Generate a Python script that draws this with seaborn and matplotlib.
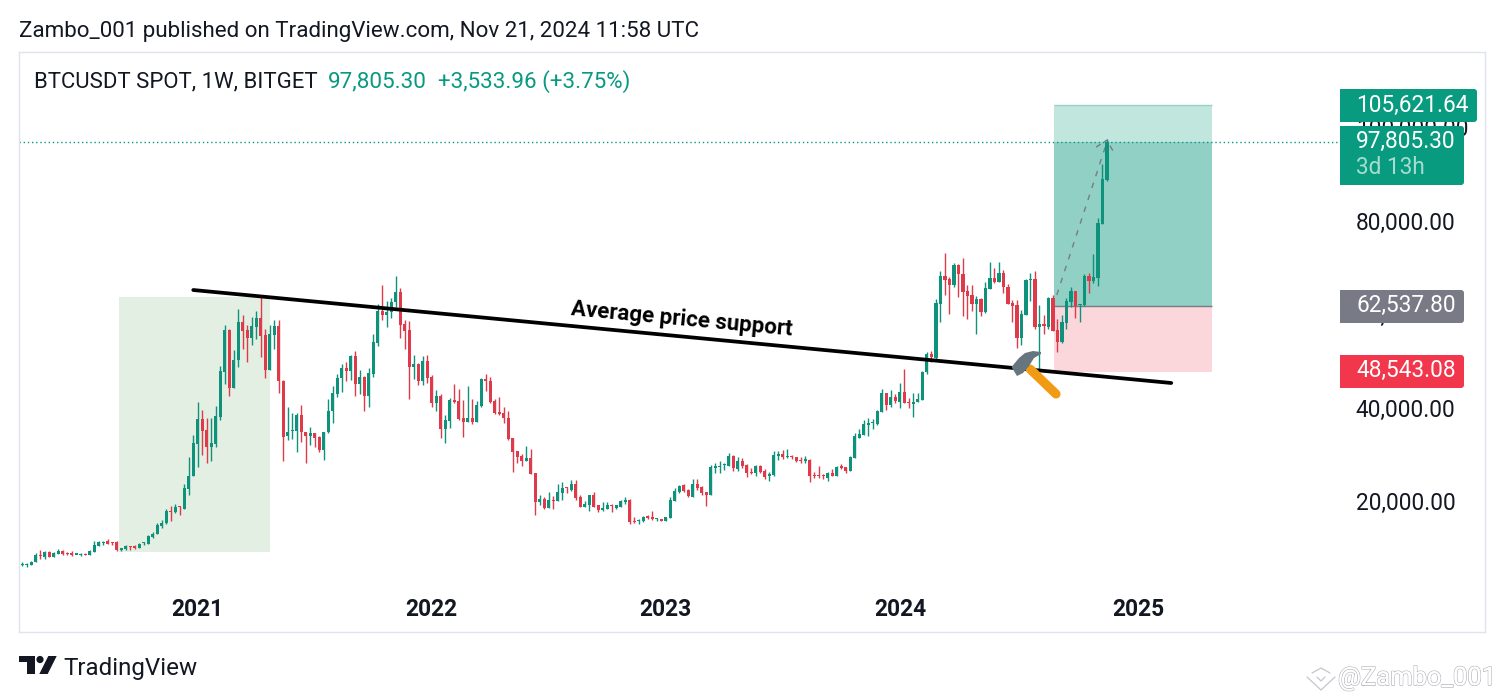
#!/usr/bin/env python
import matplotlib
matplotlib.use('Agg')

import matplotlib.pyplot as plt
import matplotlib.patheffects as pe
from matplotlib.patches import Circle, FancyBboxPatch, Polygon, Rectangle
from matplotlib.ticker import FuncFormatter
from matplotlib.transforms import Affine2D, ScaledTranslation
import numpy as np
import pandas as pd
import seaborn as sns

# weekly candles, prices in thousands of USDT, first week 2020-04-06
opens = [
    7.3, 7.3, 7.3, 7.9, 9.3, 9.0, 10.0, 9.0, 9.7, 10.2,
    9.8, 9.8, 9.5, 9.3, 9.5, 9.5, 10.1, 11.4, 12.0, 12.4,
    12.1, 12.2, 10.5, 10.6, 11.3, 11.2, 11.0, 11.9, 11.8, 13.3,
    13.9, 15.6, 16.2, 18.8, 18.5, 19.7, 19.3, 23.5, 26.4, 33.2,
    38.4, 36.1, 32.4, 33.2, 39.0, 48.6, 57.5, 45.2, 51.0, 59.2,
    57.5, 55.8, 58.2, 60.1, 56.4, 49.0, 56.4, 58.4, 46.6, 34.9,
    35.9, 36.0, 39.3, 35.8, 34.9, 35.4, 34.7, 31.9, 35.6, 40.1,
    43.9, 47.2, 49.4, 48.8, 52.0, 46.0, 47.5, 43.3, 48.2, 54.8,
    61.6, 60.8, 61.3, 63.4, 65.6, 58.8, 57.5, 49.5, 50.2, 46.7,
    50.9, 47.5, 42.0, 43.4, 36.4, 38.1, 42.5, 42.3, 38.6, 37.8,
    38.6, 37.8, 41.3, 47.0, 46.6, 42.4, 40.0, 39.7, 38.6, 34.5,
    31.6, 30.6, 29.6, 30.1, 27.0, 20.7, 21.4, 19.5, 21.2, 21.0,
    22.7, 23.8, 23.2, 24.6, 21.8, 19.7, 20.1, 22.2, 20.0, 19.0,
    19.2, 20.0, 19.4, 19.7, 20.7, 21.2, 16.7, 16.7, 16.6, 17.7,
    17.5, 17.0, 17.1, 16.7, 17.4, 21.0, 22.9, 24.3, 23.3, 21.9,
    24.6, 23.9, 22.8, 22.2, 28.1, 28.3, 28.6, 28.4, 30.6, 27.8,
    29.5, 28.6, 27.1, 26.9, 28.4, 27.4, 26.2, 26.5, 30.6, 30.9,
    30.4, 30.5, 30.3, 29.6, 29.6, 29.7, 26.5, 26.5, 26.4, 25.9,
    26.9, 26.3, 28.3, 28.2, 27.4, 30.1, 34.5, 35.1, 37.3, 37.6,
    37.4, 40.0, 44.0, 41.5, 43.1, 42.2, 44.2, 41.9, 41.7, 42.2,
    42.6, 48.5, 52.3, 51.6, 63.1, 69.1, 68.4, 67.1, 71.4, 69.5,
    65.8, 65.0, 63.1, 64.1, 61.3, 66.3, 68.6, 67.8, 69.8, 66.7,
    63.3, 62.9, 55.8, 60.8, 68.2, 68.4, 58.2, 58.7, 58.2, 64.4,
    57.5, 55.0, 59.0, 63.6, 65.9, 62.9, 62.8, 69.1, 68.0, 68.7,
    80.2, 89.6]
highs = [
    7.9, 7.6, 8.1, 9.8, 10.5, 10.3, 10.3, 10.0, 10.7, 10.5,
    10.1, 10.2, 9.5, 9.8, 9.8, 10.5, 12.4, 12.3, 12.4, 12.8,
    12.1, 12.4, 11.0, 11.5, 11.3, 11.5, 11.9, 12.2, 13.7, 14.4,
    16.2, 16.9, 19.2, 19.9, 20.3, 19.9, 24.6, 30.4, 35.1, 42.1,
    40.4, 38.7, 38.7, 41.3, 49.8, 58.6, 57.7, 53.2, 62.0, 60.7,
    58.6, 60.3, 61.5, 64.8, 57.7, 58.6, 59.6, 59.6, 46.8, 41.1,
    39.7, 39.7, 41.5, 35.8, 36.8, 35.4, 34.9, 35.8, 42.7, 45.5,
    48.2, 50.2, 50.6, 52.2, 53.0, 49.0, 47.6, 49.3, 56.6, 63.0,
    67.1, 63.8, 64.3, 69.1, 66.4, 59.7, 59.4, 52.2, 50.5, 52.0,
    52.2, 47.9, 44.7, 43.8, 39.3, 43.0, 45.9, 44.8, 42.5, 45.5,
    42.7, 42.4, 47.3, 48.2, 47.4, 42.7, 43.2, 41.0, 40.2, 34.5,
    31.6, 31.0, 32.7, 32.1, 27.0, 22.2, 21.7, 22.9, 22.0, 24.6,
    25.0, 24.0, 25.4, 25.4, 22.2, 20.9, 22.2, 22.9, 20.2, 20.7,
    20.7, 20.3, 20.1, 21.2, 21.7, 21.3, 17.5, 17.0, 17.7, 17.9,
    18.8, 17.3, 17.2, 17.5, 21.7, 23.7, 24.4, 24.5, 23.6, 25.7,
    25.7, 24.2, 22.8, 28.7, 29.0, 29.5, 29.1, 31.2, 30.8, 30.3,
    30.1, 28.9, 28.0, 28.6, 28.6, 27.7, 27.1, 31.7, 31.6, 31.9,
    32.1, 30.8, 30.4, 30.3, 30.6, 29.9, 27.1, 28.4, 26.7, 27.1,
    27.8, 28.4, 28.9, 28.2, 30.5, 35.4, 36.3, 38.3, 38.6, 38.5,
    40.4, 44.8, 44.0, 44.7, 43.8, 46.1, 49.1, 42.9, 44.1, 44.0,
    48.7, 52.9, 53.1, 64.1, 70.1, 73.9, 68.8, 71.8, 71.6, 72.8,
    67.1, 67.1, 64.8, 64.3, 67.8, 72.0, 70.7, 72.0, 70.3, 67.3,
    63.9, 63.9, 61.8, 68.4, 69.6, 70.1, 62.9, 60.7, 64.5, 65.0,
    59.9, 60.7, 64.3, 66.6, 65.9, 63.1, 69.5, 69.6, 73.8, 81.4,
    93.1, 98.4]
lows = [
    7.1, 6.9, 7.3, 7.8, 8.6, 8.6, 9.0, 9.0, 9.6, 9.5,
    9.4, 9.2, 9.4, 9.2, 9.3, 9.4, 10.0, 11.3, 11.6, 11.8,
    11.5, 10.2, 10.3, 10.5, 10.5, 10.7, 10.9, 11.5, 11.8, 13.1,
    13.8, 15.2, 16.0, 16.7, 18.4, 18.0, 19.2, 22.3, 26.3, 28.3,
    30.8, 29.1, 29.6, 32.6, 38.3, 46.0, 43.3, 45.2, 49.5, 53.4,
    50.7, 54.4, 55.6, 51.8, 47.3, 48.9, 53.4, 44.1, 29.6, 33.9,
    34.3, 31.5, 33.6, 29.1, 32.9, 32.6, 31.5, 29.7, 35.5, 37.6,
    43.1, 44.3, 46.7, 46.8, 43.3, 43.8, 40.1, 41.1, 47.4, 54.1,
    59.7, 58.2, 60.0, 62.5, 55.9, 53.5, 42.7, 47.0, 45.8, 45.8,
    46.1, 41.1, 40.1, 34.5, 33.3, 36.6, 41.8, 38.3, 34.7, 37.8,
    37.4, 37.8, 41.0, 44.5, 42.0, 39.6, 39.3, 37.7, 34.0, 27.2,
    29.1, 28.5, 29.6, 26.7, 18.0, 20.2, 19.2, 19.4, 19.2, 20.9,
    21.2, 22.7, 23.1, 21.2, 19.7, 19.6, 18.9, 19.7, 18.6, 18.9,
    19.2, 18.7, 19.2, 19.6, 20.4, 16.1, 16.3, 16.0, 16.5, 17.2,
    16.9, 16.7, 16.7, 16.7, 17.3, 20.9, 22.7, 22.9, 21.9, 21.9,
    23.4, 22.2, 19.9, 22.2, 27.0, 27.0, 27.6, 28.4, 27.4, 27.4,
    28.1, 26.1, 26.7, 26.3, 27.0, 25.7, 25.2, 26.4, 29.8, 29.9,
    30.1, 30.0, 29.3, 29.0, 29.1, 25.0, 25.8, 25.8, 25.7, 25.3,
    26.3, 26.3, 27.8, 26.9, 27.4, 30.1, 34.4, 35.0, 34.9, 36.3,
    37.2, 39.9, 40.5, 41.0, 41.8, 40.8, 41.8, 40.8, 39.0, 42.1,
    42.5, 48.1, 50.7, 51.4, 59.3, 64.9, 60.9, 66.7, 64.6, 60.4,
    59.9, 61.6, 56.7, 60.4, 61.1, 66.2, 67.5, 67.7, 65.4, 63.0,
    59.3, 53.7, 54.3, 60.7, 63.8, 57.7, 49.0, 56.6, 57.7, 57.3,
    52.9, 54.7, 57.7, 62.5, 60.1, 59.3, 62.7, 65.5, 67.6, 67.0,
    80.1, 89.4]
closes = [
    7.5, 7.4, 8.0, 9.3, 9.1, 10.0, 9.0, 9.8, 10.3, 9.6,
    9.6, 9.5, 9.5, 9.5, 9.4, 10.2, 11.5, 12.1, 12.2, 11.8,
    11.9, 10.5, 10.8, 11.3, 11.1, 11.0, 11.7, 12.0, 13.4, 14.0,
    15.8, 16.2, 18.9, 18.5, 19.7, 19.6, 23.7, 26.4, 33.3, 38.4,
    35.9, 32.4, 33.3, 39.1, 48.7, 57.5, 45.2, 51.1, 59.2, 57.4,
    55.8, 58.4, 60.1, 56.3, 49.0, 56.7, 58.4, 46.5, 34.7, 35.8,
    36.1, 39.4, 35.8, 34.9, 35.5, 34.5, 31.9, 35.6, 40.2, 44.0,
    47.2, 49.4, 48.7, 52.0, 46.0, 47.5, 43.3, 48.3, 55.0, 61.6,
    60.7, 61.4, 63.5, 65.6, 58.6, 57.4, 49.5, 50.2, 46.7, 50.9,
    47.2, 42.0, 43.4, 36.4, 38.3, 42.5, 42.1, 38.5, 37.9, 38.6,
    37.8, 41.5, 47.1, 46.5, 42.2, 39.8, 39.6, 38.6, 34.2, 31.5,
    30.4, 29.6, 30.1, 26.8, 20.8, 21.4, 19.4, 21.2, 21.0, 22.9,
    23.7, 23.7, 24.6, 21.6, 19.7, 20.3, 22.2, 19.7, 19.0, 19.5,
    20.0, 19.8, 20.0, 21.0, 21.2, 16.4, 16.5, 16.9, 17.6, 17.4,
    17.0, 17.1, 16.7, 17.5, 21.2, 23.1, 24.2, 23.1, 22.0, 24.6,
    23.8, 22.7, 22.2, 28.3, 28.2, 28.4, 28.7, 30.6, 27.9, 29.5,
    28.4, 26.9, 26.9, 28.4, 27.1, 26.1, 26.7, 30.8, 30.9, 30.3,
    30.5, 30.3, 29.4, 29.4, 29.7, 26.3, 26.3, 26.3, 26.2, 26.9,
    26.3, 28.2, 28.1, 27.4, 30.4, 34.8, 35.3, 37.4, 37.7, 37.7,
    40.2, 44.0, 41.5, 43.1, 42.3, 44.2, 41.8, 41.8, 42.2, 42.8,
    48.6, 52.4, 51.7, 63.3, 69.1, 68.3, 67.1, 71.5, 69.4, 65.7,
    64.8, 63.0, 64.1, 61.4, 66.5, 68.6, 67.8, 69.8, 66.6, 63.1,
    62.7, 55.8, 60.9, 68.3, 68.3, 58.2, 58.7, 58.4, 64.3, 57.4,
    55.0, 59.2, 63.7, 65.9, 62.6, 63.0, 69.1, 68.0, 68.8, 80.4,
    89.8, 97.8]

year_labels = ['2021', '2022', '2023', '2024', '2025']
year_dates = ['2021-01-04', '2022-01-03', '2023-01-02', '2024-01-01', '2025-01-06']
price_ticks = [20000, 40000, 60000, 80000, 100000]

# long position tool and drawings
target_price, last_price, entry_price, stop_price = 105621.64, 97805.30, 62537.80, 48543.08
position_dates = ['2024-08-28', '2025-05-01']
range_dates = ['2020-09-03', '2021-04-26']
range_prices = [10050, 64600]
trend_dates = ['2020-12-28', '2025-02-26']
trend_prices = [66060, 46180]
move_dates = ['2024-09-01', '2024-11-18']
move_prices = [65000, 97700]
arrow_dates = ['2024-11-01', '2024-11-18', '2024-11-29']
arrow_prices = [96600, 98100, 95400]

GREEN = '#089981'
CANDLE_UP = '#0F927C'
CANDLE_DOWN = '#DF3A4A'
GREY = '#787B86'
INK = '#131722'

sns.set_theme(style='white')
plt.rcParams['font.family'] = ['Roboto', 'DejaVu Sans']


def d(values):
    return pd.to_datetime(values)


fig = plt.figure(figsize=(15.04, 6.99), dpi=100, facecolor='white')
# frame runs x 19..1485, y 52..632 in image pixels
ax = fig.add_axes([19 / 1504, 1 - 632 / 699, (1485 - 19) / 1504, (632 - 52) / 699])
px = Affine2D().scale(1, -1).translate(0, 699)

# Candles
weeks = pd.date_range('2020-04-06', periods=len(opens), freq='7D')
candles = pd.DataFrame({'week': weeks, 'open': opens, 'high': highs,
                        'low': lows, 'close': closes})
candles[['open', 'high', 'low', 'close']] *= 1000
candles['side'] = np.where(candles['close'] >= candles['open'], 'up', 'down')
palette = {'up': CANDLE_UP, 'down': CANDLE_DOWN}

wicks = candles.melt(id_vars=['week', 'side'], value_vars=['high', 'low'],
                     value_name='price')
sns.lineplot(data=wicks, x='week', y='price', units='week', hue='side',
             estimator=None, palette=palette, legend=False, linewidth=1.0,
             solid_capstyle='butt', ax=ax, zorder=3)

body_bottom = candles[['open', 'close']].min(axis=1)
body_height = (candles['close'] - candles['open']).abs().clip(lower=230)
ax.bar(candles['week'], body_height, bottom=body_bottom, width=5.0,
       color=candles['side'].map(palette), linewidth=0, zorder=3.1)

# Shaded range and the long position box
ax.add_patch(Rectangle((d(range_dates[0]), range_prices[0]),
                       d(range_dates[1]) - d(range_dates[0]),
                       range_prices[1] - range_prices[0],
                       facecolor='#E3EFE3', edgecolor='none', zorder=1))
pos_left = d(position_dates[0])
pos_width = d(position_dates[1]) - pos_left
for lo, hi, colour in [(last_price, target_price, '#C1E6DE'),
                       (entry_price, last_price, '#91D0C4'),
                       (stop_price, entry_price, '#FBD7DB')]:
    ax.add_patch(Rectangle((pos_left, lo), pos_width, hi - lo,
                           facecolor=colour, edgecolor='none', zorder=1))
ax.hlines([entry_price], pos_left, pos_left + pos_width, color=GREY, linewidth=1.0, zorder=1.5)
ax.hlines([target_price], pos_left, pos_left + pos_width, color='#9CCFC5', linewidth=1.0, zorder=1.5)

# Last price line stops at its tag
ax.hlines([last_price], pd.Timestamp('2020-04-01'), pd.Timestamp('2025-11-16'), color=GREEN,
          linewidth=1.0, linestyle=(0, (1, 2)), zorder=2)

# Projected move
sns.lineplot(x=d(move_dates), y=move_prices, color=GREY, linewidth=1.0,
             linestyle=(0, (4, 5)), ax=ax, zorder=2.8, sort=False)
sns.lineplot(x=d(arrow_dates), y=arrow_prices, color=GREY, linewidth=1.0,
             linestyle=(0, (4, 3)), ax=ax, zorder=2.8, sort=False)

# Trend line and its caption
sns.lineplot(x=d(trend_dates), y=trend_prices, color='black', linewidth=2.7,
             ax=ax, zorder=4, solid_capstyle='round')
ax.text(pd.Timestamp('2023-01-26'), 59900, 'Average price support', fontsize=16,
        fontweight='bold', color='black', rotation=-5.3, rotation_mode='anchor',
        ha='center', va='center', zorder=5)

# Axes
ax.set_xlim(pd.Timestamp('2020-04-01'), pd.Timestamp('2026-06-29'))
ax.set_ylim(-7060, 116950)
ax.set_xlabel('')
ax.set_ylabel('')
ax.set_xticks(d(year_dates))
ax.set_xticklabels(year_labels, fontsize=16.4, fontweight='bold', color=INK)
ax.tick_params(axis='x', length=0, pad=-24.5)
ax.yaxis.tick_right()
ax.set_yticks(price_ticks)
ax.yaxis.set_major_formatter(FuncFormatter(lambda v, _: f'{v:,.2f}'))
ax.tick_params(axis='y', length=0, pad=-93, labelsize=16.3, labelcolor=INK)
label_lift = ScaledTranslation(0, 4 / 100, fig.dpi_scale_trans)
for label in ax.get_yticklabels():
    label.set_transform(label.get_transform() + label_lift)
for spine in ax.spines.values():
    spine.set_color('#E0E3EB')
    spine.set_linewidth(1.0)


def price_tag(x0, x1, y0, y1, colour, lines):
    ax.add_patch(FancyBboxPatch((x0 + 3, y0 + 3), x1 - x0 - 6, y1 - y0 - 6,
                                boxstyle='round,pad=3,rounding_size=3', facecolor=colour,
                                edgecolor='none', transform=px, clip_on=False, zorder=6))
    ax.add_patch(Rectangle((x0, y0), 20, y1 - y0, facecolor=colour, edgecolor='none',
                           transform=px, clip_on=False, zorder=6))
    for text, y, text_colour in lines:
        ax.text(1356, y, text, color=text_colour, fontsize=16.3, va='center', ha='left',
                transform=px, clip_on=False, zorder=7)


price_tag(1340, 1477, 89, 122, '#089B7F', [('105,621.64', 105, 'white')])
price_tag(1340, 1464, 126, 185, '#089B7F',
          [('97,805.30', 141, 'white'), ('3d 13h', 167, '#A5DDD0')])
price_tag(1340, 1464, 290, 323, GREY, [('62,537.80', 305, 'white')])
price_tag(1340, 1464, 355, 388, '#F2364C', [('48,543.08', 370.5, 'white')])

# Hammer emoji sitting on the support line
fig.add_artist(plt.Line2D([1030, 1056], [369, 394], color='#F19A13', linewidth=6.6,
                          solid_capstyle='round', transform=px, zorder=8))
fig.add_artist(Polygon([(1011.5, 367), (1017, 376), (1023, 373), (1029, 366), (1034, 358),
                        (1041, 354), (1041, 352), (1033, 351), (1025, 353), (1019, 358)],
                       closed=True, facecolor='#67757F', edgecolor='none', transform=px,
                       zorder=9))

# Header texts
fig.text(19, 31, 'Zambo_001 published on TradingView.com, Nov 21, 2024 11:58 UTC', fontsize=16.12,
         color=INK, va='center', ha='left', transform=px)
fig.text(34, 82, 'BTCUSDT SPOT, 1W, BITGET', fontsize=15.9, color=INK, va='center', ha='left',
         transform=px)
fig.text(328, 82, '97,805.30', fontsize=16.2, color=GREEN, va='center', ha='left', transform=px)
fig.text(438, 82, '+3,533.96 (+3.75%)', fontsize=16.1, color=GREEN, va='center', ha='left',
         transform=px)

# TradingView logo
for shape in ([(19, 656), (35, 656), (35, 674), (27, 674), (27, 662), (19, 662)],
              [(48.3, 656), (56.7, 656), (47.7, 674), (39.3, 674)]):
    fig.add_artist(Polygon(shape, closed=True, facecolor=INK, edgecolor='none', transform=px))
fig.add_artist(Circle((40, 659.5), 3.6, facecolor=INK, edgecolor='none', transform=px))
fig.text(63, 668, 'TradingView', fontsize=17.4, color=INK, va='center', ha='left',
         transform=px)

# Watermark
for xs, ys in (([1307, 1321, 1335], [677, 690, 677]), ([1317, 1321, 1325], [677, 681, 677]),
               ([1312, 1321, 1330], [673, 668, 673])):
    fig.add_artist(plt.Line2D(xs, ys, color='#C4C6CC', linewidth=0.9, transform=px))
fig.text(1338, 678, '@Zambo_001', fontsize=18.4, color='white', va='center', ha='left',
         transform=px, path_effects=[pe.withStroke(linewidth=1.1, foreground='#B5B7BD'),
                                     pe.Normal()])

fig.savefig('out.png', dpi=100, facecolor='white')
